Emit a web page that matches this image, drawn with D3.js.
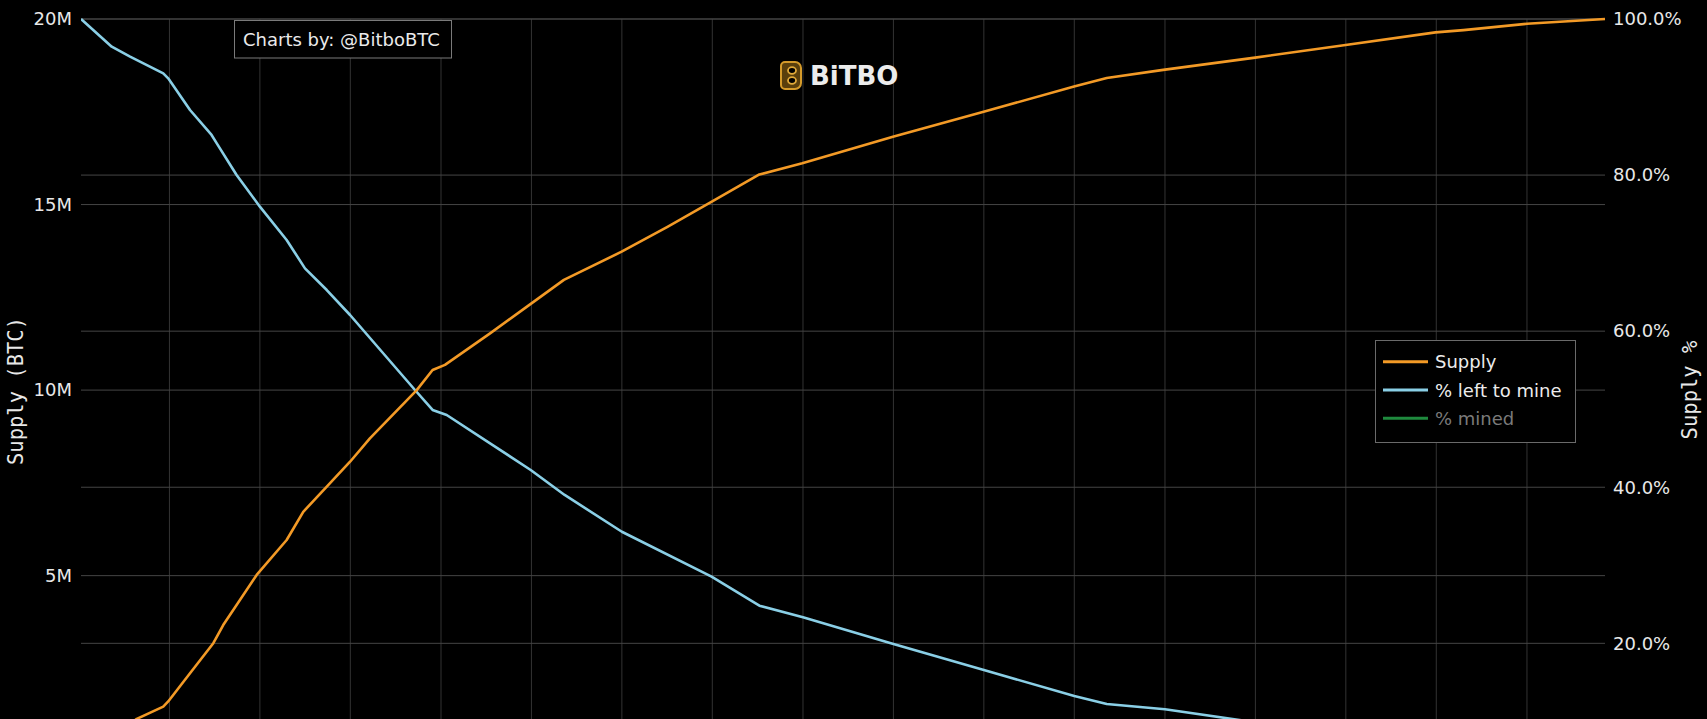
<!DOCTYPE html>
<html>
<head>
<meta charset="utf-8">
<script src="https://cdn.jsdelivr.net/npm/d3@7"></script>
<style>
  html, body { margin: 0; padding: 0; background: #000; overflow: hidden; }
  svg { display: block; }
</style>
</head>
<body>
<svg id="chart" width="1707" height="719"></svg>
<script>
// ---- data ----
const supplyDates = ["2009-01-09","2009-05-06","2009-08-22","2009-12-07","2009-12-27","2010-03-25","2010-06-27","2010-07-11","2010-08-06","2010-12-19","2011-04-19","2011-06-25","2011-09-28","2011-12-31","2012-03-20","2012-09-25","2012-11-28","2013-01-17","2013-07-18","2013-12-14","2014-05-12","2014-12-31","2015-07-04","2015-12-30","2016-07-09","2016-12-29","2017-12-30","2018-12-31","2019-12-31","2020-05-11","2020-12-25","2021-12-31","2022-12-31","2023-12-29","2024-04-20","2025-01-01","2025-11-12"];
const supplyValues = [0, 600000, 1140000, 1470000, 1610000, 2370000, 3180000, 3350000, 3670000, 5020000, 5960000, 6720000, 7400000, 8070000, 8700000, 10000000, 10540000, 10680000, 11530000, 12250000, 12970000, 13730000, 14400000, 15080000, 15810000, 16110000, 16830000, 17500000, 18180000, 18410000, 18630000, 18960000, 19300000, 19640000, 19700000, 19870000, 20000000];

const leftDates = ["2009-01-09","2009-05-13","2009-07-26","2009-12-07","2009-12-27","2010-03-25","2010-06-20","2010-07-11","2010-09-29","2011-01-01","2011-04-19","2011-07-02","2011-09-28","2011-12-31","2012-09-18","2012-11-28","2013-01-24","2013-07-18","2013-12-29","2014-05-15","2015-01-01","2015-12-29","2016-07-09","2017-01-01","2018-01-01","2019-01-01","2020-01-01","2020-05-11","2021-01-01","2021-12-31","2022-12-31","2023-12-29","2024-04-20","2025-01-01","2025-11-12"];
const leftPct = [100, 96.45, 95.17, 93.04, 92.40, 88.34, 85.14, 84.07, 80.01, 75.95, 71.68, 68.05, 65.27, 62.07, 52.46, 49.90, 49.26, 45.63, 42.21, 39.01, 34.30, 28.54, 24.82, 23.33, 19.91, 16.58, 13.25, 12.22, 11.55, 9.88, 8.25, 6.62, 6.20, 5.56, 4.92];

const xDomain = ["2009-01-09", "2025-11-12"];
const leftTickValues = [5000000, 10000000, 15000000, 20000000];
const leftTickLabels = ["5M", "10M", "15M", "20M"];
const rightTickValues = [20, 40, 60, 80, 100];
const rightTickLabels = ["20.0%", "40.0%", "60.0%", "80.0%", "100.0%"];
const legendLabels = ["Supply", "% left to mine", "% mined"];

// ---- setup ----
const parse = d3.timeParse("%Y-%m-%d");
const svg = d3.select("#chart");
const W = 1707, H = 719;
const plot = { left: 81, right: 1605, top: 19, bottom: 799 };

const x = d3.scaleTime().domain(xDomain.map(parse)).range([plot.left, plot.right]);
const yLeft = d3.scaleLinear().domain([0, 20000000]).range([761.2, plot.top]);
const yRight = d3.scaleLinear().domain([0, 100]).range([799.4, plot.top]);

const ORANGE = "#f39a26";
const BLUE = "#8acfe6";
const GREEN = "#1f8a3e";
const FONT = "'DejaVu Sans', Verdana, sans-serif";

svg.append("rect").attr("width", W).attr("height", H).attr("fill", "#000");

svg.append("defs").append("clipPath").attr("id", "plotclip")
  .append("rect").attr("x", plot.left).attr("y", plot.top - 2)
  .attr("width", plot.right - plot.left + 2).attr("height", plot.bottom - plot.top + 4);

// vertical grid (yearly)
const years = x.ticks(d3.timeYear.every(1)).filter(d => x(d) > plot.left + 2 && x(d) < plot.right - 2);
svg.append("g").selectAll("line").data(years).join("line")
  .attr("x1", d => x(d)).attr("x2", d => x(d))
  .attr("y1", plot.top).attr("y2", plot.bottom)
  .attr("stroke", "#333").attr("stroke-width", 1);

// horizontal grid (both axes)
const hg = svg.append("g");
hg.selectAll("line.l").data(leftTickValues).join("line").attr("class", "l")
  .attr("x1", plot.left).attr("x2", plot.right)
  .attr("y1", d => yLeft(d)).attr("y2", d => yLeft(d))
  .attr("stroke", "#454545").attr("stroke-width", 1);
hg.selectAll("line.r").data(rightTickValues).join("line").attr("class", "r")
  .attr("x1", plot.left).attr("x2", plot.right)
  .attr("y1", d => yRight(d)).attr("y2", d => yRight(d))
  .attr("stroke", "#454545").attr("stroke-width", 1);

// axes
const axL = svg.append("g").attr("transform", `translate(${plot.left},0)`)
  .call(d3.axisLeft(yLeft).tickValues(leftTickValues)
    .tickFormat((d, i) => leftTickLabels[i]).tickSize(0).tickPadding(9));
const axR = svg.append("g").attr("transform", `translate(${plot.right},0)`)
  .call(d3.axisRight(yRight).tickValues(rightTickValues)
    .tickFormat((d, i) => rightTickLabels[i]).tickSize(0).tickPadding(8));
[axL, axR].forEach(a => {
  a.select(".domain").remove();
  a.selectAll("text").attr("fill", "#e8e8e8").style("font-family", FONT).style("font-size", "18px");
});

// axis titles
svg.append("text")
  .attr("transform", "translate(16,391) rotate(-90)")
  .attr("text-anchor", "middle").attr("dominant-baseline", "central")
  .attr("fill", "#e8e8e8").style("font-family", "'DejaVu Sans Mono', monospace").style("font-size", "20.5px")
  .text("Supply (BTC)");
svg.append("text")
  .attr("transform", "translate(1690,390) rotate(-90)")
  .attr("text-anchor", "middle").attr("dominant-baseline", "central")
  .attr("fill", "#e8e8e8").style("font-family", "'DejaVu Sans Mono', monospace").style("font-size", "20.5px")
  .text("Supply %");

// lines
const lines = svg.append("g").attr("clip-path", "url(#plotclip)");
const supplyData = supplyDates.map((d, i) => ({ date: parse(d), v: supplyValues[i] }));
const leftData = leftDates.map((d, i) => ({ date: parse(d), v: leftPct[i] }));

lines.append("path").datum(leftData)
  .attr("fill", "none").attr("stroke", BLUE).attr("stroke-width", 2.6)
  .attr("stroke-linejoin", "round")
  .attr("d", d3.line().x(d => x(d.date)).y(d => yRight(d.v)));
lines.append("path").datum(supplyData)
  .attr("fill", "none").attr("stroke", ORANGE).attr("stroke-width", 2.6)
  .attr("stroke-linejoin", "round")
  .attr("d", d3.line().x(d => x(d.date)).y(d => yLeft(d.v)));

// "Charts by" badge
const badge = svg.append("g");
badge.append("rect").attr("x", 234.5).attr("y", 20.5).attr("width", 217).attr("height", 37.5)
  .attr("fill", "#000").attr("stroke", "#7a7a7a").attr("stroke-width", 1);
badge.append("text").attr("x", 243).attr("y", 39.5).attr("dominant-baseline", "central")
  .attr("fill", "#eaeaea").style("font-family", FONT).style("font-size", "18px")
  .text("Charts by: @BitboBTC");

// BITBO logo
const logo = svg.append("g");
logo.append("path")
  .attr("d", "M785,62 h10 a6,6 0 0 1 6,6 v15 a6,6 0 0 1 -6,6 h-10 a4,4 0 0 1 -4,-4 v-19 a4,4 0 0 1 4,-4 z")
  .attr("fill", "#5a3f0c").attr("stroke", "#d49a2a").attr("stroke-width", 2);
logo.append("ellipse").attr("cx", 792).attr("cy", 70.5).attr("rx", 4).attr("ry", 3.3)
  .attr("fill", "#000").attr("stroke", "#e0a93a").attr("stroke-width", 1.8);
logo.append("ellipse").attr("cx", 792).attr("cy", 80.5).attr("rx", 4).attr("ry", 3.3)
  .attr("fill", "#000").attr("stroke", "#e0a93a").attr("stroke-width", 1.8);
logo.append("text").attr("x", 810).attr("y", 85)
  .attr("fill", "#ececec").style("font-family", FONT).style("font-weight", "bold")
  .style("font-size", "26px").text("BiTBO");

// legend
const lg = svg.append("g");
lg.append("rect").attr("x", 1375.5).attr("y", 340.5).attr("width", 200).attr("height", 102)
  .attr("fill", "#000").attr("stroke", "#6a6a6a").attr("stroke-width", 1);
const legendColors = [ORANGE, BLUE, GREEN];
const legendText = ["#ececec", "#ececec", "#7a7a7a"];
const ly = [361.7, 390, 418.3];
legendLabels.forEach((lab, i) => {
  lg.append("line").attr("x1", 1383).attr("x2", 1428).attr("y1", ly[i]).attr("y2", ly[i])
    .attr("stroke", legendColors[i]).attr("stroke-width", 3);
  lg.append("text").attr("x", 1435).attr("y", ly[i]).attr("dominant-baseline", "central")
    .attr("fill", legendText[i]).style("font-family", FONT).style("font-size", "18px").text(lab);
});
</script>
</body>
</html>
